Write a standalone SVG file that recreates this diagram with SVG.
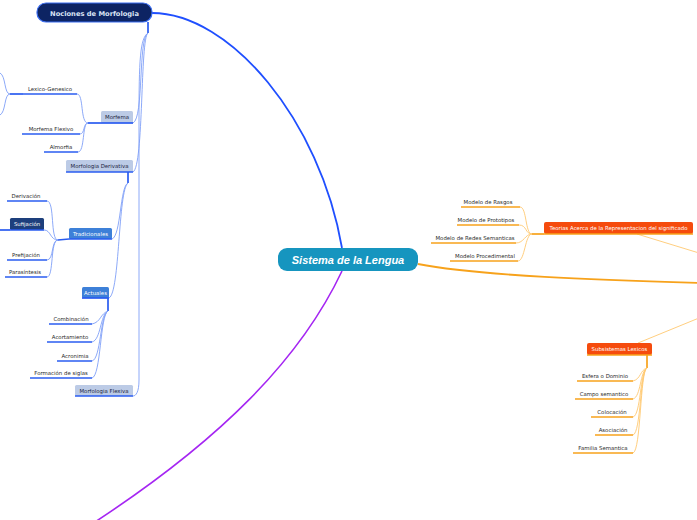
<svg xmlns="http://www.w3.org/2000/svg" width="697" height="520" viewBox="0 0 697 520">
<style>
.lbl{font-family:"DejaVu Sans",Verdana,sans-serif;font-size:5.4px;fill:#2a2a2a;text-anchor:middle}
.ntx{font-family:"DejaVu Sans",Verdana,sans-serif;font-size:5.4px;text-anchor:middle}
.bl{fill:none;stroke:#7f9ff7;stroke-width:0.9}
.bu{fill:none;stroke:#2a5cf0;stroke-width:1.7}
.ol{fill:none;stroke:#ffc870;stroke-width:0.9}
.ou{fill:none;stroke:#f7a21b;stroke-width:1.7}
.light{fill:#bccbe6}
.mid{fill:#3d80d8}
.red{fill:#f54b0d}
</style>
<rect width="697" height="520" fill="#ffffff"/>
<g id="connectors">
  <path d="M152,13 C230,13 320,120 342,248" fill="none" stroke="#1f4fff" stroke-width="1.8"/>
  <path d="M342,271 C300,360 220,440 95,522" fill="none" stroke="#a526f2" stroke-width="1.6"/>
  <path d="M418,264 C480,276 600,280 699,283" fill="none" stroke="#f7a21b" stroke-width="1.8"/>
  <path class="bu" d="M148,22 L148,33"/>
  <path class="bl" d="M148,33 C138,38 144,118 133,123"/>
  <path class="bl" d="M148,33 C140,38 144,166 133,172"/>
  <path class="bl" d="M148,33 C140,38 139,60 139,120 L139,380 C139,392 136,396 133,396"/>
  <path class="bu" d="M101,123 L88,123"/>
  <path class="bl" d="M88,123 C80,123 84,94 77,94"/>
  <path class="bl" d="M88,123 C83,123 85,134 80,134"/>
  <path class="bl" d="M88,123 C82,123 85,152 78,152"/>
  <path class="bu" d="M23,94 L10,94"/>
  <path class="bl" d="M10,94 C4,94 6,76 0,73"/>
  <path class="bl" d="M10,94 C4,94 6,112 0,115"/>
  <path class="bu" d="M128,172 L128,183"/>
  <path class="bl" d="M128,183 C120,186 121,236 112,239"/>
  <path class="bl" d="M128,183 C118,190 120,293 109,298"/>
  <path class="bu" d="M69,239 L58,240"/>
  <path class="bl" d="M58,240 C50,240 55,201 47,201"/>
  <path class="bl" d="M58,240 C50,240 51,230 44,230"/>
  <path class="bl" d="M58,240 C51,240 54,260 47,260"/>
  <path class="bl" d="M58,240 C50,240 54,277 47,277"/>
  <path class="bu" d="M0,230 L10,230"/>
  <path class="bu" d="M108,298 L108,311"/>
  <path class="bl" d="M108,311 C100,314 101,322 92,324"/>
  <path class="bl" d="M108,311 C100,315 101,340 92,342"/>
  <path class="bl" d="M108,311 C100,315 101,359 92,361"/>
  <path class="bl" d="M108,311 C100,315 101,376 92,378"/>
  <path class="ol" d="M637,234 L699,253"/>
  <path class="ol" d="M638,343 L699,318"/>
  <path class="ou" d="M544,234 L532,234"/>
  <path class="ol" d="M532,234 C525,234 527,207 520,207"/>
  <path class="ol" d="M532,234 C525,234 527,225 519,225"/>
  <path class="ol" d="M532,234 C525,234 524,243 516,243"/>
  <path class="ol" d="M532,234 C525,234 525,261 518,261"/>
  <path class="ou" d="M647,355 L647,368"/>
  <path class="ol" d="M647,368 C640,370 641,379 633,381"/>
  <path class="ol" d="M647,368 C640,371 641,397 633,399"/>
  <path class="ol" d="M647,368 C640,371 641,415 633,417"/>
  <path class="ol" d="M647,368 C640,371 641,433 633,435"/>
  <path class="ol" d="M647,368 C640,371 641,451 633,453"/>
</g>

<g id="main">
  <rect x="278" y="248" width="140" height="23" rx="9" fill="#1695bf"/>
  <text x="348" y="264" text-anchor="middle" font-family="Liberation Sans,Arial,sans-serif" font-size="11" font-weight="bold" font-style="italic" fill="#ffffff">Sistema de la Lengua</text>
</g>

<g id="nociones">
  <rect x="37" y="3" width="115" height="19" rx="9" fill="#0d2463" stroke="#3a6cf0" stroke-width="1.2"/>
  <text x="94.5" y="15.5" text-anchor="middle" font-family="DejaVu Sans,Verdana,sans-serif" font-size="6.7" font-weight="bold" fill="#d8e2f4">Nociones de Morfologia</text>
</g>

<g id="morfema">
  <rect class="light" x="101" y="111" width="32" height="12" rx="1.5"/>
  <path class="bu" d="M101,123 L133,123"/>
  <text class="ntx" x="117" y="119" fill="#1a2440">Morfema</text>
</g>
<g id="lexico"><text class="lbl" x="50" y="90.5">Lexico-Genesico</text><path class="bu" d="M23,94 L77,94"/></g>
<g id="morfema-flexivo"><text class="lbl" x="51" y="130.5">Morfema Flexivo</text><path class="bu" d="M22,134 L80,134"/></g>
<g id="almorfia"><text class="lbl" x="61" y="148.5">Almorfia</text><path class="bu" d="M44,152 L78,152"/></g>

<g id="derivativa">
  <rect class="light" x="66" y="160" width="67" height="12" rx="1.5"/>
  <path class="bu" d="M66,172 L133,172"/>
  <text class="ntx" x="99.5" y="168" fill="#1a2440">Morfologia Derivativa</text>
</g>
<g id="tradicionales">
  <rect class="mid" x="69" y="228" width="43" height="11" rx="1.5"/>
  <path class="bu" d="M69,239 L112,239"/>
  <text class="ntx" x="90.5" y="235.5" fill="#ffffff">Tradicionales</text>
</g>
<g id="derivacion"><text class="lbl" x="26" y="197.5">Derivación</text><path class="bu" d="M7,201 L47,201"/></g>
<g id="sufijacion">
  <rect x="10" y="218" width="34" height="12" rx="1.5" fill="#1d3f7c"/>
  <path class="bu" d="M10,230 L44,230"/>
  <text class="ntx" x="27" y="226" fill="#ffffff">Sufijación</text>
</g>
<g id="prefijacion"><text class="lbl" x="26" y="256.5">Prefijación</text><path class="bu" d="M7,260 L47,260"/></g>
<g id="parasintesis"><text class="lbl" x="25" y="273.5">Parasíntesis</text><path class="bu" d="M5,277 L47,277"/></g>

<g id="actuales">
  <rect class="mid" x="82" y="287" width="27" height="11" rx="1.5"/>
  <path class="bu" d="M82,298 L109,298"/>
  <text class="ntx" x="95.5" y="294.5" fill="#ffffff">Actuales</text>
</g>
<g id="combinacion"><text class="lbl" x="71" y="320.5">Combinación</text><path class="bu" d="M49,324 L92,324"/></g>
<g id="acortamiento"><text class="lbl" x="70" y="338.5">Acortamiento</text><path class="bu" d="M47,342 L92,342"/></g>
<g id="acronimia"><text class="lbl" x="75" y="357.5">Acronimia</text><path class="bu" d="M57,361 L92,361"/></g>
<g id="siglas"><text class="lbl" x="61" y="374.5">Formación de siglas</text><path class="bu" d="M30,378 L92,378"/></g>

<g id="flexiva">
  <rect class="light" x="75" y="385" width="58" height="11" rx="1.5"/>
  <path class="bu" d="M75,396 L133,396"/>
  <text class="ntx" x="104" y="392.5" fill="#1a2440">Morfologia Flexiva</text>
</g>

<g id="teorias">
  <rect class="red" x="544" y="222" width="149" height="12" rx="2"/>
  <path class="ou" d="M544,234 L693,234"/>
  <text class="ntx" x="618.5" y="230" font-size="5.1" fill="#ffffff">Teorias Acerca de la Representacion del significado</text>
</g>
<g id="rasgos"><text class="lbl" x="488" y="203.5">Modelo de Rasgos</text><path class="ou" d="M461,207 L520,207"/></g>
<g id="prototipos"><text class="lbl" x="486" y="221.5">Modelo de Prototipos</text><path class="ou" d="M457,225 L519,225"/></g>
<g id="redes"><text class="lbl" x="475" y="239.5">Modelo de Redes Semanticas</text><path class="ou" d="M431,243 L516,243"/></g>
<g id="procedimental"><text class="lbl" x="485" y="257.5">Modelo Procedimental</text><path class="ou" d="M450,261 L518,261"/></g>

<g id="subsistemas">
  <rect class="red" x="587" y="343" width="65" height="12" rx="2"/>
  <path class="ou" d="M587,355 L652,355"/>
  <text class="ntx" x="619.5" y="351" fill="#ffffff">Subsistemas Lexicos</text>
</g>
<g id="esfera"><text class="lbl" x="605" y="377.5">Esfera o Dominio</text><path class="ou" d="M577,381 L633,381"/></g>
<g id="campo"><text class="lbl" x="604" y="395.5">Campo semantico</text><path class="ou" d="M575,399 L633,399"/></g>
<g id="colocacion"><text class="lbl" x="612" y="413.5">Colocación</text><path class="ou" d="M591,417 L633,417"/></g>
<g id="asociacion"><text class="lbl" x="613" y="431.5">Asociación</text><path class="ou" d="M595,435 L633,435"/></g>
<g id="familia"><text class="lbl" x="603" y="449.5">Familia Semantica</text><path class="ou" d="M573,453 L633,453"/></g>
</svg>
